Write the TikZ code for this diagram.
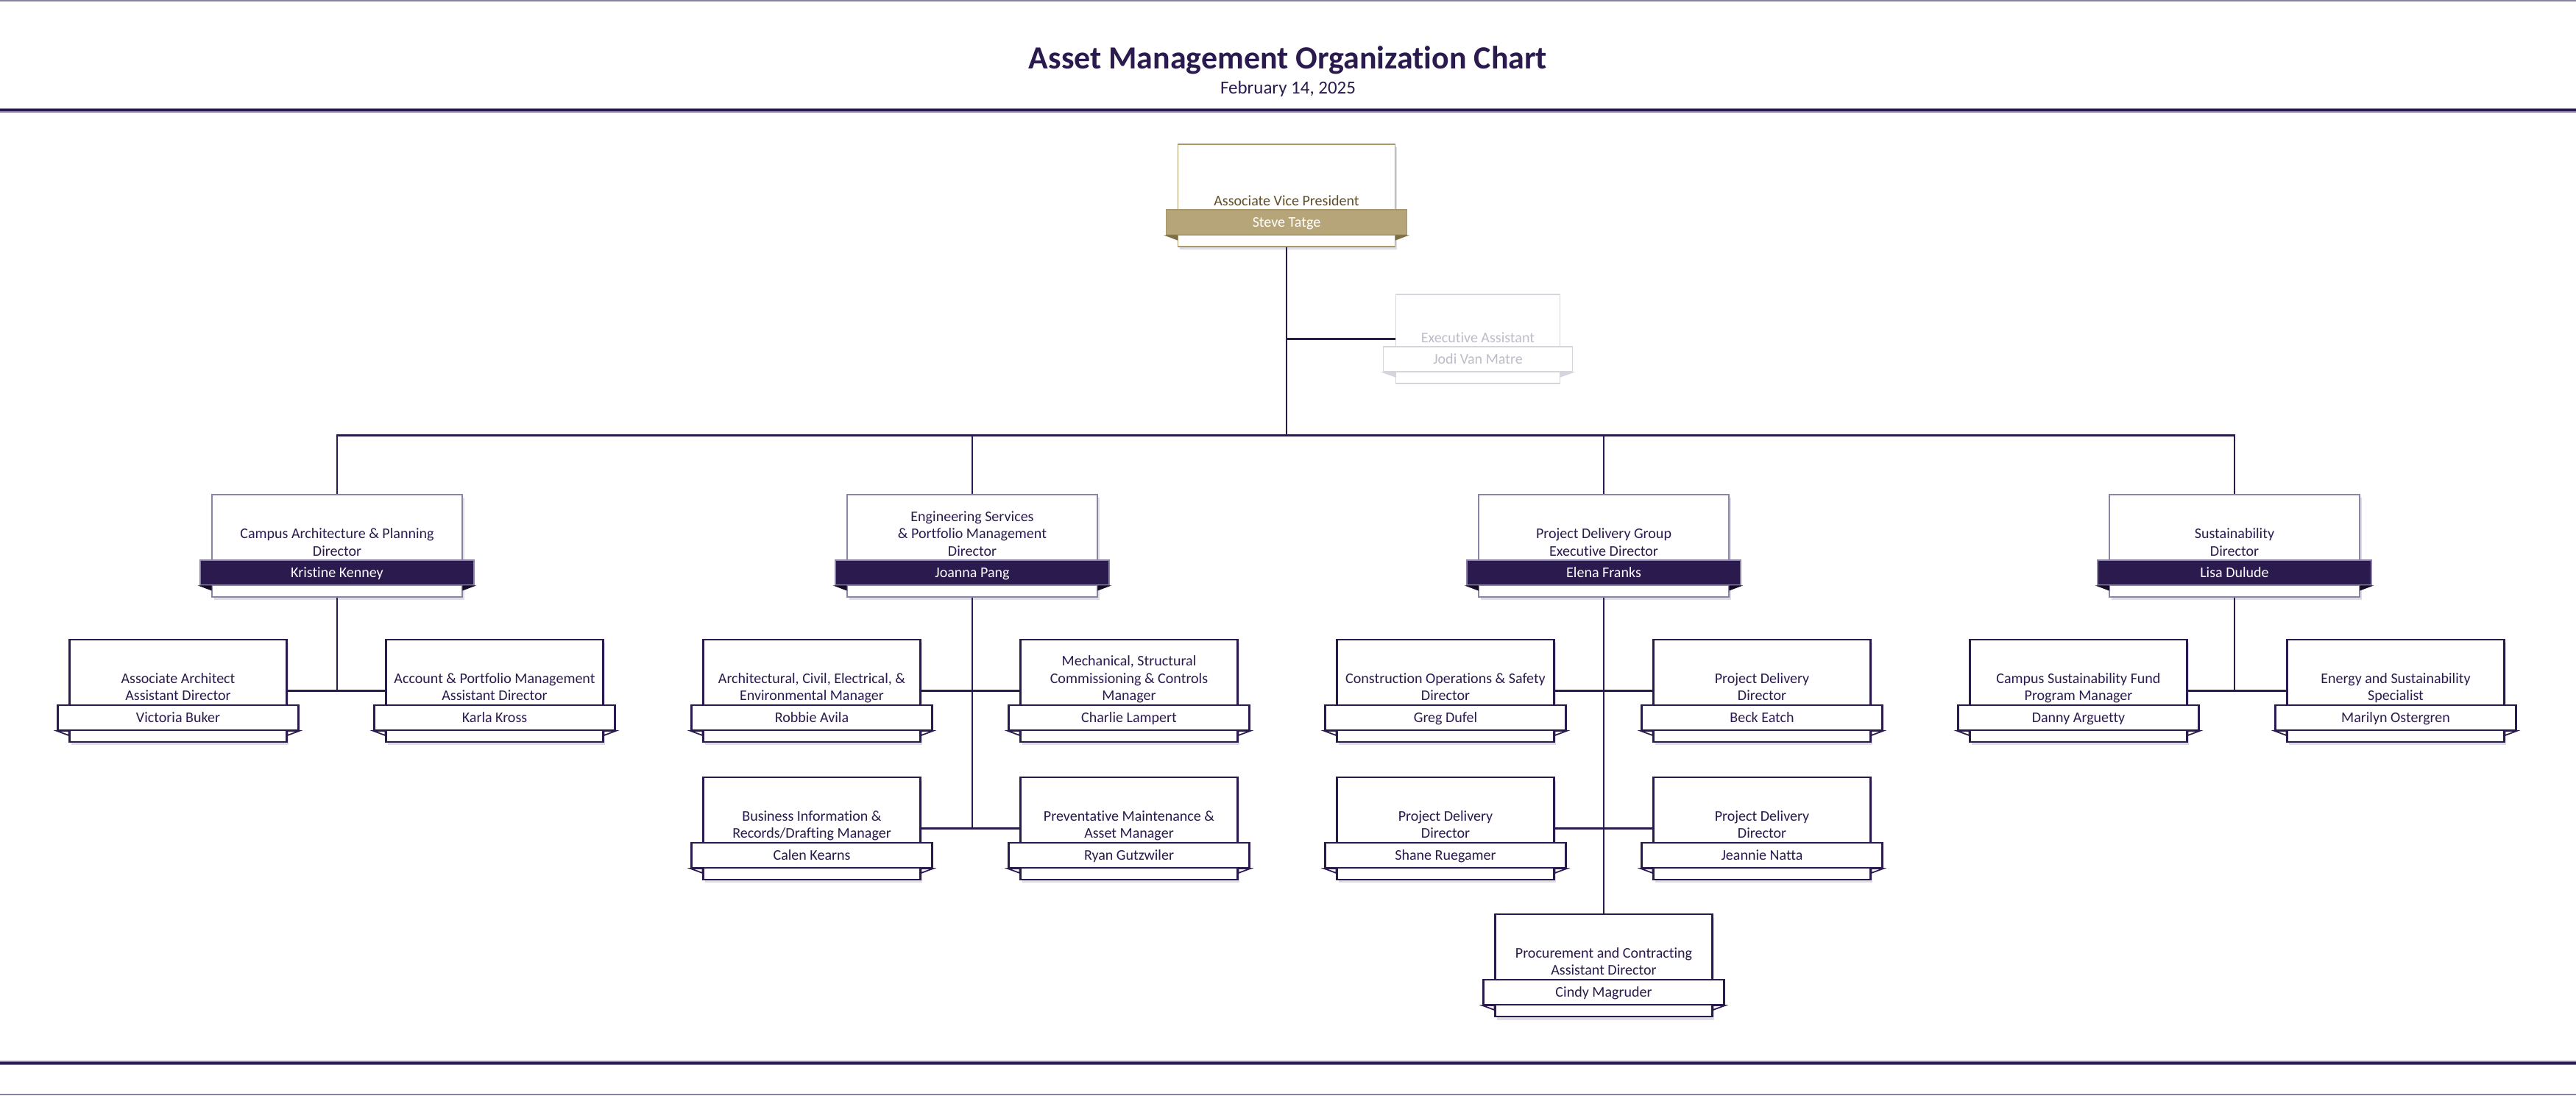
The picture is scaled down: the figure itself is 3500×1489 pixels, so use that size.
\documentclass[tikz,border=0pt]{standalone}
\usepackage{fontspec}
\setmainfont[Ligatures = NoCommon]{Carlito}
\usetikzlibrary{shadows}

\definecolor{ink}{HTML}{2B1A4D}
\definecolor{rulesoft}{HTML}{8A80AA}
\definecolor{dirline}{HTML}{8C84A8}
\definecolor{dirfold}{HTML}{160C28}
\definecolor{gold}{HTML}{B7A57A}
\definecolor{goldline}{HTML}{A8986A}
\definecolor{goldtext}{HTML}{5E4F2A}
\definecolor{golddark}{HTML}{7D6E45}
\definecolor{greyline}{HTML}{D6D5DE}
\definecolor{greytext}{HTML}{BDBCC8}

% one card: box, name band, title, folds
\newcommand{\Card}[6]{%
	\node[#1Box] (#2) at (#3,#4) {};
	\node[#1Band, anchor=south] (#2-n) at ([yshift=1.6mm]#2.south) {#6};
	\node[#1Title, anchor=south] (#2-t) at ([yshift=-0.26mm]#2-n.north) {#5\strut};
	\filldraw[#1Fold] (#2-n.south west) -- (#2.west |- #2-n.south) -- ([yshift=-0.6mm]#2.west |- #2-n.south) -- cycle;
	\filldraw[#1Fold] (#2-n.south east) -- (#2.east |- #2-n.south) -- ([yshift=-0.6mm]#2.east |- #2-n.south) -- cycle;
}

\begin{document}
\begin{tikzpicture}[x = 0.1mm, y = -0.1mm]
	\tikzstyle{cardShadow} = [drop shadow = {shadow xshift = 0.25mm, shadow yshift = -0.45mm, opacity = 0.15, fill = ink}]
	\tikzstyle{cardText} = [inner sep = 0pt, align = center, font = \fontsize{5.7}{6.7}\selectfont]
	\tikzstyle{bandText} = [inner sep = 0pt, minimum height = 3.4mm, text height = 1.7mm, text depth = 0.43mm, font = \fontsize{5.7}{6.7}\selectfont]
	\tikzstyle{avpBox} = [draw = goldline, fill = white, line width = 0.5pt, minimum width = 29.5mm, minimum height = 13.9mm, cardShadow]
	\tikzstyle{avpBand} = [bandText, draw = goldline, fill = gold, text = white, minimum width = 32.7mm]
	\tikzstyle{avpTitle} = [cardText, text = goldtext]
	\tikzstyle{avpFold} = [fill = golddark, draw = golddark, line width = 0.3pt]
	\tikzstyle{exaBox} = [draw = greyline, fill = white, line width = 0.5pt, minimum width = 22.3mm, minimum height = 12.1mm]
	\tikzstyle{exaBand} = [bandText, draw = greyline, fill = white, text = greytext, minimum width = 25.7mm]
	\tikzstyle{exaTitle} = [cardText, text = greytext]
	\tikzstyle{exaFold} = [fill = greyline, draw = greyline, line width = 0.3pt]
	\tikzstyle{dirBox} = [draw = dirline, fill = white, line width = 0.45pt, minimum width = 34mm, minimum height = 13.9mm, cardShadow]
	\tikzstyle{dirBand} = [bandText, draw = dirline, fill = ink, text = white, minimum width = 37.2mm]
	\tikzstyle{dirTitle} = [cardText, text = ink]
	\tikzstyle{dirFold} = [fill = dirfold, draw = dirfold, line width = 0.3pt]
	\tikzstyle{mgrBox} = [draw = ink, fill = white, line width = 0.6pt, minimum width = 29.5mm, minimum height = 13.9mm, cardShadow]
	\tikzstyle{mgrBand} = [bandText, draw = ink, fill = white, text = ink, line width = 0.6pt, minimum width = 32.7mm]
	\tikzstyle{mgrTitle} = [cardText, text = ink]
	\tikzstyle{mgrFold} = [fill = white, draw = ink, line width = 0.5pt]
	\tikzstyle{link} = [draw = ink, line width = 0.75pt]

	\useasboundingbox (0,0) rectangle (3500,1489);

	% header and footer rules
	\draw[rulesoft, line width = 0.2mm] (0,1) -- (3500,1);
	\draw[rulesoft, line width = 0.55mm] (0,150) -- (3500,150);
	\draw[ink, line width = 0.3mm] (0,150) -- (3500,150);
	\draw[rulesoft, line width = 0.55mm] (0,1444) -- (3500,1444);
	\draw[ink, line width = 0.3mm] (0,1444) -- (3500,1444);
	\draw[rulesoft, line width = 0.2mm] (0,1487) -- (3500,1487);

	\node[anchor = base, text = ink, font = \bfseries\fontsize{12.5}{14}\selectfont] (title) at (1750,94) {Asset Management Organization Chart};
	\node[anchor = base, text = ink, font = \fontsize{7.1}{8.5}\selectfont] (date) at (1750,128) {February 14, 2025};

	% top
	\Card{avp}{avp}{1748}{265.5}{Associate Vice President}{Steve Tatge}
	\Card{exa}{exa}{2008}{460.5}{Executive Assistant}{Jodi Van Matre}

	% directors
	\Card{dir}{dca}{458}{741.5}{Campus Architecture \& Planning\\Director}{Kristine Kenney}
	\Card{dir}{des}{1321}{741.5}{Engineering Services\\\& Portfolio Management\\Director}{Joanna Pang}
	\Card{dir}{dpd}{2179}{741.5}{Project Delivery Group\\Executive Director}{Elena Franks}
	\Card{dir}{dsu}{3036}{741.5}{Sustainability\\Director}{Lisa Dulude}

	% managers
	\Card{mgr}{aad}{242}{938.5}{Associate Architect\\Assistant Director}{Victoria Buker}
	\Card{mgr}{apm}{672}{938.5}{Account \& Portfolio Management\\Assistant Director}{Karla Kross}
	\Card{mgr}{ace}{1103}{938.5}{Architectural, Civil, Electrical, \&\\Environmental Manager}{Robbie Avila}
	\Card{mgr}{msc}{1534}{938.5}{Mechanical, Structural\\Commissioning \& Controls\\Manager}{Charlie Lampert}
	\Card{mgr}{bir}{1103}{1125.5}{Business Information \&\\Records/Drafting Manager}{Calen Kearns}
	\Card{mgr}{pma}{1534}{1125.5}{Preventative Maintenance \&\\Asset Manager}{Ryan Gutzwiler}
	\Card{mgr}{cos}{1964}{938.5}{Construction Operations \& Safety\\Director}{Greg Dufel}
	\Card{mgr}{pdb}{2394}{938.5}{Project Delivery\\Director}{Beck Eatch}
	\Card{mgr}{pds}{1964}{1125.5}{Project Delivery\\Director}{Shane Ruegamer}
	\Card{mgr}{pdj}{2394}{1125.5}{Project Delivery\\Director}{Jeannie Natta}
	\Card{mgr}{pca}{2179}{1311.5}{Procurement and Contracting\\Assistant Director}{Cindy Magruder}
	\Card{mgr}{csf}{2824}{938.5}{Campus Sustainability Fund\\Program Manager}{Danny Arguetty}
	\Card{mgr}{ess}{3255}{938.5}{Energy and Sustainability\\Specialist}{Marilyn Ostergren}

	% connectors
	\coordinate (bus) at (1748,591.5);
	\draw[link] (avp.south) -- (bus);
	\draw[link] (avp.south |- exa.west) -- (exa.west);
	\draw[link] (dca.north) |- (bus) -| (dsu.north);
	\draw[link] (des.north) -- (des.north |- bus);
	\draw[link] (dpd.north) -- (dpd.north |- bus);
	\draw[link] (dca.south) -- (dca.south |- aad.east);
	\draw[link] (aad.east) -- (apm.west);
	\draw[link] (des.south) -- (des.south |- bir.east);
	\draw[link] (ace.east) -- (msc.west);
	\draw[link] (bir.east) -- (pma.west);
	\draw[link] (dpd.south) -- (pca.north);
	\draw[link] (cos.east) -- (pdb.west);
	\draw[link] (pds.east) -- (pdj.west);
	\draw[link] (dsu.south) -- (dsu.south |- csf.east);
	\draw[link] (csf.east) -- (ess.west);
\end{tikzpicture}
\end{document}
